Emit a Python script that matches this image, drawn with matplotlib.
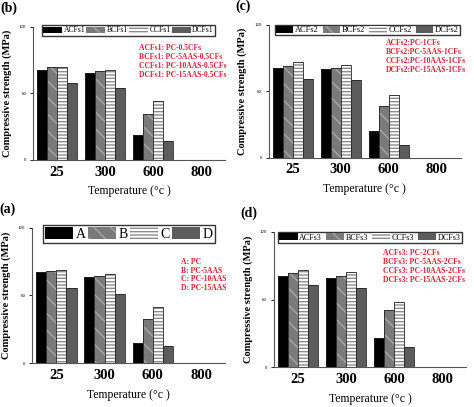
import numpy as np
import matplotlib.pyplot as plt
from matplotlib.patches import Patch

plt.rcParams['font.family'] = ['Liberation Serif', 'DejaVu Serif']
plt.rcParams['hatch.linewidth'] = 1.0

temps = ['25', '300', '600', '800']

# (a) reference mixes
a_names = ['A', 'B', 'C', 'D']
a_vals = [[80.8, 76.7, 17.7, 0],
          [81.4, 77.6, 38.9, 0],
          [82.6, 79.3, 50.1, 0],
          [67.0, 61.4, 15.3, 0]]
a_notes = ['A: PC', 'B: PC-5AAS', 'C: PC-10AAS', 'D: PC-15AAS']

# (b) 0.5% CFs
b_names = ['ACFs1', 'BCFs1', 'CCFs1', 'DCFs1']
b_vals = [[81.0, 78.6, 22.8, 0],
          [83.4, 79.8, 41.4, 0],
          [83.4, 81.3, 52.8, 0],
          [69.6, 64.8, 17.1, 0]]
b_notes = ['ACFs1: PC-0.5CFs', 'BCFs1: PC-5AAS-0.5CFs',
           'CCFs1: PC-10AAS-0.5CFs', 'DCFs1: PC-15AAS-0.5CFs']

# (c) 1% CFs
c_names = ['ACFs2', 'BCFs2', 'CCFs2', 'DCFs2']
c_vals = [[81.0, 79.8, 24.3, 0],
          [83.1, 81.3, 47.1, 0],
          [86.4, 83.7, 56.7, 0],
          [71.4, 70.5, 11.5, 0]]
c_notes = ['ACFs2:PC-1CFs', 'BCFs2:PC-5AAS-1CFs',
           'CCFs2:PC-10AAS-1CFs', 'DCFs2:PC-15AAS-1CFs']

# (d) 2% CFs
d_names = ['ACFs3', 'BCFs3', 'CCFs3', 'DCFs3']
d_vals = [[81.3, 78.9, 25.9, 0],
          [83.9, 81.3, 50.9, 0],
          [86.3, 84.8, 58.0, 0],
          [73.2, 70.0, 17.9, 0]]
d_notes = ['ACFs3: PC-2CFs', 'BCFs3: PC-5AAS-2CFs',
           'CCFs3: PC-10AAS-2CFs', 'DCFs3: PC-15AAS-2CFs']

faces = ['#000000', '#7a7a7a', '#ffffff', '#5c5c5c']
hatches = [None, '\\\\', '-----', None]
hatch_cols = ['#000000', '#a6a6a6', '#8c8c8c', '#5c5c5c']

W = 0.21


def panel(rect, letter, names, vals, notes, note_xy, leg_box, leg_fs, hlen):
    ax = fig.add_axes(rect)
    x = np.arange(len(temps))
    for i in range(4):
        pos = x + (i - 1.5) * W
        ax.bar(pos, vals[i], W, color=faces[i], hatch=hatches[i],
               edgecolor=hatch_cols[i], linewidth=0)
        ax.bar(pos, vals[i], W, fill=False, edgecolor='#222222', linewidth=0.6)
    ax.set_xlim(-0.5, 3.5)
    ax.set_ylim(0, 120)
    ax.set_yticks([0, 60, 120])
    ax.tick_params(axis='y', labelsize=3.5, length=2, width=0.6, pad=3)
    ax.set_xticks(x)
    ax.set_xticklabels(temps, fontsize=10.5, fontweight='bold')
    ax.tick_params(axis='x', length=0, pad=4)
    for s in ['top', 'right']:
        ax.spines[s].set_visible(False)
    ax.spines['left'].set_color('#555555')
    ax.spines['bottom'].set_color('#555555')
    ax.set_ylabel('Compressive strength (MPa)', fontsize=7.5,
                  fontweight='bold', labelpad=5)
    ax.set_xlabel('Temperature (°c )', fontsize=8.5, labelpad=5)

    handles = [Patch(facecolor=faces[i], hatch=hatches[i],
                     edgecolor=hatch_cols[i], linewidth=0) for i in range(4)]
    leg = ax.legend(handles, names, ncol=4, loc='lower left',
                    bbox_to_anchor=leg_box, mode='expand',
                    fontsize=leg_fs, handlelength=hlen, handleheight=0.9,
                    handletextpad=0.2, columnspacing=0.3, borderpad=0.15,
                    borderaxespad=0, fancybox=False, frameon=True)
    leg.get_frame().set_edgecolor('black')
    leg.get_frame().set_linewidth(1.0)

    ax.text(note_xy[0], note_xy[1], '\n'.join(notes), transform=ax.transAxes,
            color='#e02030', fontsize=5.5, fontweight='bold',
            va='top', ha='left', linespacing=1.15)
    fig.text(rect[0] - 0.07, rect[1] + rect[3] + 0.045, letter,
             fontsize=10, fontweight='bold', va='center')
    return ax


fig = plt.figure(figsize=(4.74, 4.07), dpi=100)

panel([0.070, 0.607, 0.405, 0.327], '(b)', b_names, b_vals, b_notes,
      (0.55, 0.87), (0.047, 0.935, 0.90, 0.065), 5.5, 2.5)
panel([0.567, 0.612, 0.405, 0.327], '(c)', c_names, c_vals, c_notes,
      (0.61, 0.895), (0.03, 0.92, 0.965, 0.085), 6, 2.1)
panel([0.068, 0.108, 0.407, 0.332], '(a)', a_names, a_vals, a_notes,
      (0.77, 0.78), (0.057, 0.89, 0.89, 0.115), 10, 2.0)
panel([0.578, 0.098, 0.405, 0.332], '(d)', d_names, d_vals, d_notes,
      (0.57, 0.875), (0.02, 0.92, 0.96, 0.085), 5.8, 2.3)

fig.savefig('out.png', dpi=100)
